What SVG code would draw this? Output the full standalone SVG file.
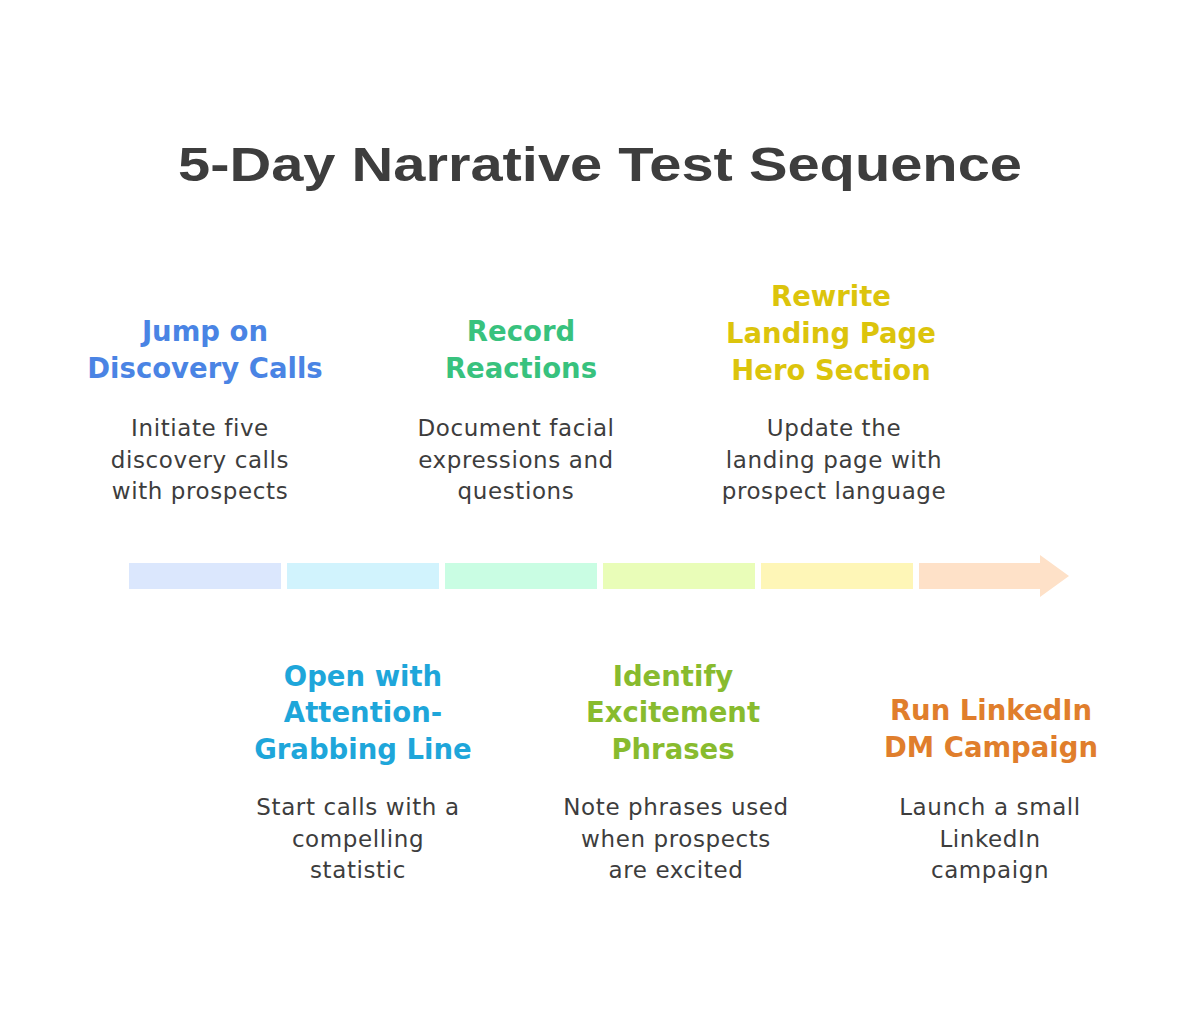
<svg xmlns="http://www.w3.org/2000/svg" width="1200" height="1026" viewBox="0 0 1200 1026">
<style>
.title{font-family:"Liberation Sans",Arial,sans-serif;font-weight:bold;font-size:48px;fill:#3d3d3d;text-anchor:middle}
.h{font-family:"DejaVu Sans","Liberation Sans",sans-serif;font-weight:bold;font-size:27.5px;text-anchor:middle}
.b{font-family:"DejaVu Sans","Liberation Sans",sans-serif;font-size:23px;letter-spacing:0.6px;fill:#3d3d3d;text-anchor:middle}
</style>
<rect width="1200" height="1026" fill="#ffffff"/>
<text class="title" x="600" y="181" textLength="844" lengthAdjust="spacingAndGlyphs">5-Day Narrative Test Sequence</text>
<g id="timeline">
<rect x="129" y="563" width="152" height="26" fill="#dbe7fd"/>
<rect x="287" y="563" width="152" height="26" fill="#d1f3fd"/>
<rect x="445" y="563" width="152" height="26" fill="#c9fde3"/>
<rect x="603" y="563" width="152" height="26" fill="#e9fdb8"/>
<rect x="761" y="563" width="152" height="26" fill="#fef6b7"/>
<path d="M919 563 H1040 V555 L1069 576 L1040 597 V589 H919 Z" fill="#fee1c8"/>
</g>
<g id="step1">
<text class="h" fill="#4a84e4" x="205" y="341">Jump on</text>
<text class="h" fill="#4a84e4" x="205" y="378">Discovery Calls</text>
<text class="b" x="200" y="436">Initiate five</text>
<text class="b" x="200" y="468">discovery calls</text>
<text class="b" x="200" y="499">with prospects</text>
</g>
<g id="step2">
<text class="h" fill="#1ea6da" x="363" y="686">Open with</text>
<text class="h" fill="#1ea6da" x="363" y="722">Attention-</text>
<text class="h" fill="#1ea6da" x="363" y="759">Grabbing Line</text>
<text class="b" x="358" y="815">Start calls with a</text>
<text class="b" x="358" y="847">compelling</text>
<text class="b" x="358" y="878">statistic</text>
</g>
<g id="step3">
<text class="h" fill="#38c27e" x="521" y="341">Record</text>
<text class="h" fill="#38c27e" x="521" y="378">Reactions</text>
<text class="b" x="516" y="436">Document facial</text>
<text class="b" x="516" y="468">expressions and</text>
<text class="b" x="516" y="499">questions</text>
</g>
<g id="step4">
<text class="h" fill="#88bb2e" x="673" y="686">Identify</text>
<text class="h" fill="#88bb2e" x="673" y="722">Excitement</text>
<text class="h" fill="#88bb2e" x="673" y="759">Phrases</text>
<text class="b" x="676" y="815">Note phrases used</text>
<text class="b" x="676" y="847">when prospects</text>
<text class="b" x="676" y="878">are excited</text>
</g>
<g id="step5">
<text class="h" fill="#dcc40c" x="831" y="306">Rewrite</text>
<text class="h" fill="#dcc40c" x="831" y="343">Landing Page</text>
<text class="h" fill="#dcc40c" x="831" y="380">Hero Section</text>
<text class="b" x="834" y="436">Update the</text>
<text class="b" x="834" y="468">landing page with</text>
<text class="b" x="834" y="499">prospect language</text>
</g>
<g id="step6">
<text class="h" fill="#e07e2c" x="991" y="720">Run LinkedIn</text>
<text class="h" fill="#e07e2c" x="991" y="757">DM Campaign</text>
<text class="b" x="990" y="815">Launch a small</text>
<text class="b" x="990" y="847">LinkedIn</text>
<text class="b" x="990" y="878">campaign</text>
</g>
</svg>
